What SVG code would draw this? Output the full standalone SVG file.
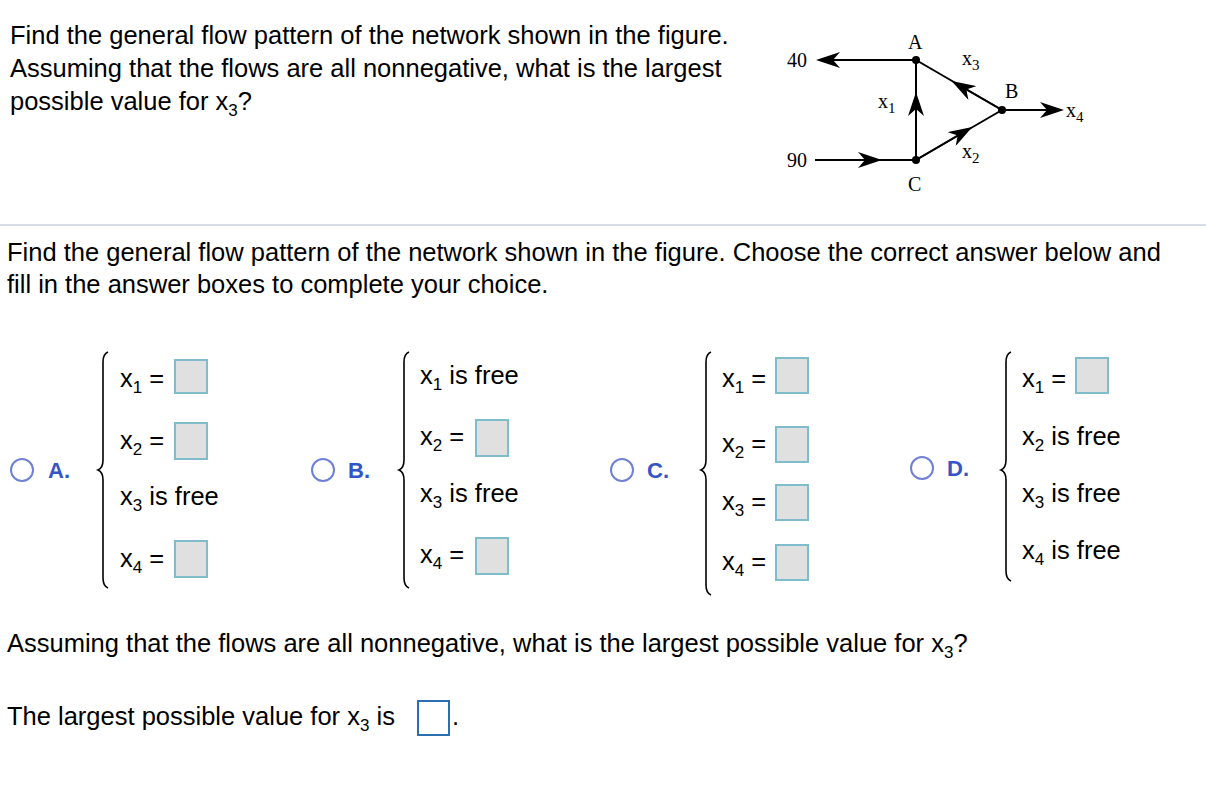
<svg xmlns="http://www.w3.org/2000/svg" width="1206" height="790" viewBox="0 0 1206 790">
<style>
.t{font-family:"Liberation Sans",Arial,sans-serif;font-size:25.5px;fill:#000}
.s{font-size:17px}
.n{font-family:"Liberation Serif","Times New Roman",serif;font-size:20px;fill:#000}
.ns{font-size:15px}
.bx{fill:#e0e0e0;stroke:#7fbccc;stroke-width:2}
.rd{fill:none;stroke:#6f80d6;stroke-width:2}
.lb{font-family:"Liberation Sans",Arial,sans-serif;font-size:22px;font-weight:bold;fill:#3455c8}
.br{fill:none;stroke:#000;stroke-width:1.6}
.e{stroke:#000;stroke-width:2;fill:none}
</style>
<defs>
<marker id="ah" viewBox="0 0 24 16" refX="12" refY="8" markerWidth="24" markerHeight="16" markerUnits="userSpaceOnUse" orient="auto"><path d="M0,0 L24,8 L0,16 L7,8 Z" fill="#000"/></marker>
</defs>
<rect width="1206" height="790" fill="#fff"/>
<text class="t" x="10" y="44">Find the general flow pattern of the network shown in the figure.</text>
<text class="t" x="10" y="77">Assuming that the flows are all nonnegative, what is the largest</text>
<text class="t" x="10" y="110">possible value for x<tspan class="s" dy="6">3</tspan><tspan dy="-6">?</tspan></text>
<g id="connectors">
<line class="e" x1="916" y1="60" x2="828" y2="60" marker-end="url(#ah)"/>
<line class="e" x1="916" y1="160" x2="916" y2="60"/>
<line class="e" x1="916" y1="160" x2="916" y2="104" marker-end="url(#ah)"/>
<line class="e" x1="815" y1="160" x2="916" y2="160"/>
<line class="e" x1="815" y1="160" x2="870" y2="160" marker-end="url(#ah)"/>
<line class="e" x1="916" y1="160" x2="1002" y2="110"/>
<line class="e" x1="916" y1="160" x2="962" y2="133" marker-end="url(#ah)"/>
<line class="e" x1="1002" y1="110" x2="916" y2="60"/>
<line class="e" x1="1002" y1="110" x2="962" y2="87" marker-end="url(#ah)"/>
<line class="e" x1="1002" y1="110" x2="1052" y2="110" marker-end="url(#ah)"/>
</g>
<g id="nodeA"><circle cx="916" cy="60" r="4" fill="#000"/><text class="n" x="908" y="49">A</text></g>
<g id="nodeB"><circle cx="1002" cy="110" r="4" fill="#000"/><text class="n" x="1005" y="98">B</text></g>
<g id="nodeC"><circle cx="916" cy="160" r="4" fill="#000"/><text class="n" x="908" y="191">C</text></g>
<text class="n" x="787" y="67">40</text>
<text class="n" x="787" y="167">90</text>
<text class="n" x="878" y="108">x<tspan class="ns" dy="5">1</tspan></text>
<text class="n" x="962" y="65">x<tspan class="ns" dy="5">3</tspan></text>
<text class="n" x="962" y="158">x<tspan class="ns" dy="5">2</tspan></text>
<text class="n" x="1066" y="117">x<tspan class="ns" dy="5">4</tspan></text>
<line x1="0" y1="225" x2="1206" y2="225" stroke="#c8d0dc" stroke-width="1.5"/>
<text class="t" x="7" y="261">Find the general flow pattern of the network shown in the figure. Choose the correct answer below and</text>
<text class="t" x="7" y="293">fill in the answer boxes to complete your choice.</text>
<circle class="rd" cx="22" cy="470" r="11"/><text class="lb" x="48" y="478">A.</text>
<path class="br" d="M108,352 Q103,354 103,362 L103,460 Q103,468 98,470 Q103,472 103,480 L103,578 Q103,586 108,588"/>
<text class="t" x="120" y="387">x<tspan class="s" dy="6">1</tspan><tspan dy="-6"> =</tspan></text><rect class="bx" x="175" y="360" width="32" height="33"/>
<text class="t" x="120" y="449">x<tspan class="s" dy="6">2</tspan><tspan dy="-6"> =</tspan></text><rect class="bx" x="175" y="423" width="32" height="36"/>
<text class="t" x="120" y="505">x<tspan class="s" dy="6">3</tspan><tspan dy="-6"> is free</tspan></text>
<text class="t" x="120" y="567">x<tspan class="s" dy="6">4</tspan><tspan dy="-6"> =</tspan></text><rect class="bx" x="175" y="541" width="32" height="36"/>
<circle class="rd" cx="323" cy="470" r="11"/><text class="lb" x="348" y="478">B.</text>
<path class="br" d="M409,352 Q404,354 404,362 L404,460 Q404,468 399,470 Q404,472 404,480 L404,578 Q404,586 409,588"/>
<text class="t" x="420" y="384">x<tspan class="s" dy="6">1</tspan><tspan dy="-6"> is free</tspan></text>
<text class="t" x="420" y="445">x<tspan class="s" dy="6">2</tspan><tspan dy="-6"> =</tspan></text><rect class="bx" x="476" y="420" width="32" height="36"/>
<text class="t" x="420" y="502">x<tspan class="s" dy="6">3</tspan><tspan dy="-6"> is free</tspan></text>
<text class="t" x="420" y="563">x<tspan class="s" dy="6">4</tspan><tspan dy="-6"> =</tspan></text><rect class="bx" x="476" y="538" width="32" height="36"/>
<circle class="rd" cx="622" cy="470" r="11"/><text class="lb" x="647" y="478">C.</text>
<path class="br" d="M711,352 Q706,354 706,362 L706,460 Q706,468 701,470 Q706,472 706,480 L706,585 Q706,593 711,595"/>
<text class="t" x="722" y="387">x<tspan class="s" dy="6">1</tspan><tspan dy="-6"> =</tspan></text><rect class="bx" x="776" y="358" width="32" height="35"/>
<text class="t" x="722" y="452">x<tspan class="s" dy="6">2</tspan><tspan dy="-6"> =</tspan></text><rect class="bx" x="776" y="427" width="32" height="35"/>
<text class="t" x="722" y="510">x<tspan class="s" dy="6">3</tspan><tspan dy="-6"> =</tspan></text><rect class="bx" x="776" y="485" width="32" height="35"/>
<text class="t" x="722" y="570">x<tspan class="s" dy="6">4</tspan><tspan dy="-6"> =</tspan></text><rect class="bx" x="776" y="545" width="32" height="35"/>
<circle class="rd" cx="922" cy="468" r="11"/><text class="lb" x="947" y="476">D.</text>
<path class="br" d="M1011,352 Q1006,354 1006,362 L1006,460 Q1006,468 1001,470 Q1006,472 1006,480 L1006,571 Q1006,579 1011,581"/>
<text class="t" x="1022" y="387">x<tspan class="s" dy="6">1</tspan><tspan dy="-6"> =</tspan></text><rect class="bx" x="1076" y="358" width="32" height="35"/>
<text class="t" x="1022" y="445">x<tspan class="s" dy="6">2</tspan><tspan dy="-6"> is free</tspan></text>
<text class="t" x="1022" y="502">x<tspan class="s" dy="6">3</tspan><tspan dy="-6"> is free</tspan></text>
<text class="t" x="1022" y="559">x<tspan class="s" dy="6">4</tspan><tspan dy="-6"> is free</tspan></text>
<text class="t" x="7" y="652">Assuming that the flows are all nonnegative, what is the largest possible value for x<tspan class="s" dy="6">3</tspan><tspan dy="-6">?</tspan></text>
<text class="t" x="7" y="725">The largest possible value for x<tspan class="s" dy="6">3</tspan><tspan dy="-6"> is</tspan></text>
<rect x="418" y="701" width="31" height="34" fill="#fff" stroke="#2a6fb0" stroke-width="2"/>
<text class="t" x="452" y="725">.</text>
</svg>
